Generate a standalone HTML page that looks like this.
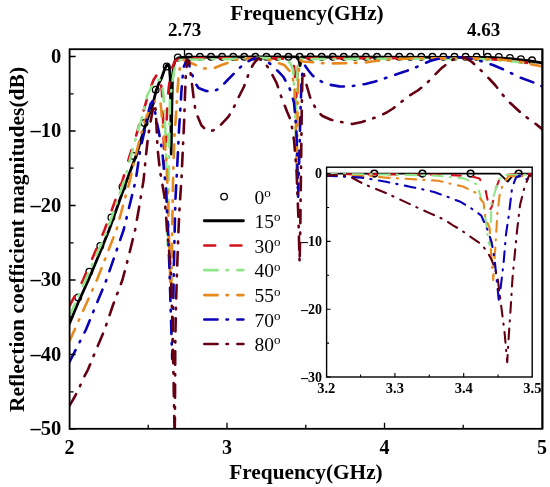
<!DOCTYPE html>
<html><head><meta charset="utf-8"><title>Reflection coefficient magnitudes</title>
<style>
html,body{margin:0;padding:0;background:#fff;}
body{width:550px;height:487px;overflow:hidden;}
svg{display:block;}
text{font-family:"Liberation Serif","Times New Roman",serif;}
.b{font-weight:bold;}
</style></head><body>
<svg width="550" height="487" viewBox="0 0 550 487">
<defs>
<clipPath id="cm"><rect x="70" y="49.5" width="472" height="379"/></clipPath>
<clipPath id="ci"><rect x="326.8" y="167.6" width="204.8" height="208.8"/></clipPath>
</defs>
<rect width="550" height="487" fill="#fff"/>

<g clip-path="url(#cm)">
<circle cx="78.2" cy="297.4" r="3.3" fill="none" stroke="#000" stroke-width="1.3"/>
<circle cx="89.3" cy="271.7" r="3.3" fill="none" stroke="#000" stroke-width="1.3"/>
<circle cx="100.3" cy="246.0" r="3.3" fill="none" stroke="#000" stroke-width="1.3"/>
<circle cx="111.4" cy="217.4" r="3.3" fill="none" stroke="#000" stroke-width="1.3"/>
<circle cx="122.5" cy="186.8" r="3.3" fill="none" stroke="#000" stroke-width="1.3"/>
<circle cx="133.5" cy="155.9" r="3.3" fill="none" stroke="#000" stroke-width="1.3"/>
<circle cx="144.6" cy="123.0" r="3.3" fill="none" stroke="#000" stroke-width="1.3"/>
<circle cx="155.7" cy="89.7" r="3.3" fill="none" stroke="#000" stroke-width="1.3"/>
<circle cx="166.7" cy="66.5" r="3.3" fill="none" stroke="#000" stroke-width="1.3"/>
<circle cx="177.8" cy="57.5" r="3.3" fill="none" stroke="#000" stroke-width="1.3"/>
<circle cx="188.9" cy="56.8" r="3.3" fill="none" stroke="#000" stroke-width="1.3"/>
<circle cx="199.9" cy="56.8" r="3.3" fill="none" stroke="#000" stroke-width="1.3"/>
<circle cx="211.0" cy="56.8" r="3.3" fill="none" stroke="#000" stroke-width="1.3"/>
<circle cx="222.1" cy="56.8" r="3.3" fill="none" stroke="#000" stroke-width="1.3"/>
<circle cx="233.2" cy="56.8" r="3.3" fill="none" stroke="#000" stroke-width="1.3"/>
<circle cx="244.2" cy="56.8" r="3.3" fill="none" stroke="#000" stroke-width="1.3"/>
<circle cx="255.3" cy="56.8" r="3.3" fill="none" stroke="#000" stroke-width="1.3"/>
<circle cx="266.4" cy="56.8" r="3.3" fill="none" stroke="#000" stroke-width="1.3"/>
<circle cx="277.4" cy="56.8" r="3.3" fill="none" stroke="#000" stroke-width="1.3"/>
<circle cx="288.5" cy="56.8" r="3.3" fill="none" stroke="#000" stroke-width="1.3"/>
<circle cx="299.6" cy="56.8" r="3.3" fill="none" stroke="#000" stroke-width="1.3"/>
<circle cx="310.6" cy="56.8" r="3.3" fill="none" stroke="#000" stroke-width="1.3"/>
<circle cx="321.7" cy="56.8" r="3.3" fill="none" stroke="#000" stroke-width="1.3"/>
<circle cx="332.8" cy="56.8" r="3.3" fill="none" stroke="#000" stroke-width="1.3"/>
<circle cx="343.8" cy="56.8" r="3.3" fill="none" stroke="#000" stroke-width="1.3"/>
<circle cx="354.9" cy="56.8" r="3.3" fill="none" stroke="#000" stroke-width="1.3"/>
<circle cx="366.0" cy="56.8" r="3.3" fill="none" stroke="#000" stroke-width="1.3"/>
<circle cx="377.0" cy="56.8" r="3.3" fill="none" stroke="#000" stroke-width="1.3"/>
<circle cx="388.1" cy="56.8" r="3.3" fill="none" stroke="#000" stroke-width="1.3"/>
<circle cx="399.2" cy="56.8" r="3.3" fill="none" stroke="#000" stroke-width="1.3"/>
<circle cx="410.2" cy="56.8" r="3.3" fill="none" stroke="#000" stroke-width="1.3"/>
<circle cx="421.3" cy="56.8" r="3.3" fill="none" stroke="#000" stroke-width="1.3"/>
<circle cx="432.4" cy="56.8" r="3.3" fill="none" stroke="#000" stroke-width="1.3"/>
<circle cx="443.4" cy="56.8" r="3.3" fill="none" stroke="#000" stroke-width="1.3"/>
<circle cx="454.5" cy="56.8" r="3.3" fill="none" stroke="#000" stroke-width="1.3"/>
<circle cx="465.6" cy="56.8" r="3.3" fill="none" stroke="#000" stroke-width="1.3"/>
<circle cx="476.6" cy="56.8" r="3.3" fill="none" stroke="#000" stroke-width="1.3"/>
<circle cx="487.7" cy="56.8" r="3.3" fill="none" stroke="#000" stroke-width="1.3"/>
<circle cx="498.8" cy="56.9" r="3.3" fill="none" stroke="#000" stroke-width="1.3"/>
<circle cx="509.9" cy="58.0" r="3.3" fill="none" stroke="#000" stroke-width="1.3"/>
<circle cx="520.9" cy="59.2" r="3.3" fill="none" stroke="#000" stroke-width="1.3"/>
<circle cx="532.0" cy="60.3" r="3.3" fill="none" stroke="#000" stroke-width="1.3"/>
<polyline points="69.50,323.50 78.00,303.00 88.40,280.00 98.50,256.00 109.10,230.00 118.00,205.00 126.90,180.00 136.70,154.00 143.60,131.00 148.50,116.00 152.80,104.80 156.00,91.00 159.00,83.00 161.60,78.00 164.00,71.00 166.30,65.80 168.00,64.70 169.40,67.50 170.20,78.00 170.70,105.00 171.20,154.00 171.80,110.00 172.40,82.00 173.40,67.00 175.30,60.00 178.00,58.00 182.00,57.30 190.00,57.20 258.50,56.80 298.19,56.80 300.08,65.59 301.58,56.80 470.00,57.30 490.00,57.50 510.00,58.60 530.00,61.00 542.50,63.00" fill="none" stroke="#000000" stroke-width="2.8" stroke-linejoin="round" stroke-linecap="round"/>
<polyline points="69.50,306.00 83.10,280.00 104.50,230.00 122.70,180.00 129.00,158.00 135.70,137.00 139.50,124.00 143.50,111.00 147.00,99.00 150.50,88.00 153.50,80.00 157.00,74.50 159.00,74.00 160.50,80.00 162.00,92.00 162.80,110.00 163.40,130.00 164.00,150.00 164.80,168.00 165.70,150.00 166.50,125.00 167.30,105.00 168.50,90.00 170.00,78.00 172.00,68.00 175.00,61.00 180.00,58.50 190.00,58.30 258.50,58.24 274.25,58.39 286.85,58.99 291.73,60.55 293.62,62.86 295.04,76.42 295.95,97.73 296.43,94.00 297.37,73.89 298.54,59.51 301.03,58.24 320.00,58.30 420.00,58.30 480.00,58.60 510.00,60.50 542.50,65.00" fill="none" stroke="#d2101c" stroke-width="2.6" stroke-linejoin="round" stroke-linecap="round" stroke-dasharray="10.9 15.3"/>
<polyline points="69.50,316.00 85.50,280.00 107.30,230.00 124.50,180.00 138.00,130.00 141.00,121.00 147.40,95.00 152.00,86.00 156.00,81.50 159.50,79.50 162.00,84.00 163.50,95.00 165.00,120.00 166.00,150.00 166.50,200.00 167.00,235.00 167.80,250.00 168.40,220.00 168.80,180.00 169.00,150.00 169.50,120.00 170.00,100.00 172.00,85.00 173.80,72.00 176.00,64.00 180.00,60.00 183.00,59.50 200.00,59.50 230.00,59.00 258.50,57.87 274.25,58.62 283.70,59.73 290.00,62.72 293.07,69.42 294.73,96.98 295.67,132.75 295.99,136.47 296.39,89.53 298.03,63.98 299.45,58.99 320.00,59.00 420.00,58.80 480.00,59.00 510.00,61.00 542.50,65.50" fill="none" stroke="#90e68a" stroke-width="2.6" stroke-linejoin="round" stroke-linecap="round" stroke-dasharray="13.3 8.9 1.5 9.4"/>
<polyline points="69.50,341.00 74.50,330.00 96.90,280.00 116.40,230.00 130.00,180.00 136.00,154.00 140.00,138.00 144.00,124.00 148.00,113.00 152.00,105.00 156.00,100.00 158.50,99.00 160.70,104.00 162.30,122.00 164.40,140.00 166.40,160.00 168.00,200.00 169.40,250.00 170.20,280.00 170.80,296.00 171.50,280.00 172.20,230.00 172.80,190.00 173.30,170.00 174.50,135.00 176.20,112.00 177.20,95.00 178.50,77.00 180.50,64.00 183.70,60.00 191.00,63.00 204.00,68.50 214.20,68.00 221.60,65.00 235.50,60.00 245.00,58.50 258.50,59.23 269.52,59.98 272.20,61.47 278.98,63.33 284.17,64.90 287.01,68.17 289.84,71.16 292.84,78.23 294.57,89.41 294.98,105.43 295.92,116.60 296.25,142.68 296.77,173.97 297.34,130.75 297.72,100.21 298.27,79.35 298.98,68.92 300.24,59.98 302.00,61.50 316.00,62.50 326.00,63.50 345.00,63.20 365.00,62.50 375.00,61.00 395.00,59.30 410.00,58.50 430.00,58.30 480.00,58.60 500.00,59.50 520.00,62.00 542.50,66.50" fill="none" stroke="#e8891e" stroke-width="2.6" stroke-linejoin="round" stroke-linecap="round" stroke-dasharray="13.3 8.9 1.5 9.4"/>
<polyline points="69.50,362.00 85.80,330.00 106.40,280.00 123.60,230.00 135.80,180.00 140.30,149.00 144.30,132.00 147.30,116.00 150.60,104.00 152.70,101.00 154.50,108.00 156.50,121.00 158.50,130.00 160.50,141.00 162.30,152.00 164.50,175.00 166.00,188.00 168.00,230.00 169.50,270.00 171.00,320.00 172.20,359.00 173.00,320.00 173.80,270.00 174.70,230.00 175.40,200.00 176.50,180.00 177.80,155.00 179.00,130.00 180.30,110.00 181.30,93.00 182.50,78.00 183.70,67.00 186.50,60.50 188.50,63.00 192.00,74.00 194.80,82.30 198.50,88.00 206.00,91.00 213.30,91.40 219.70,88.50 227.10,80.50 237.30,70.30 244.70,63.00 254.00,58.50 258.50,58.73 266.69,60.97 272.20,65.44 278.19,71.40 283.23,76.62 287.01,83.32 289.37,87.79 292.13,95.98 294.03,102.69 295.45,118.34 296.39,131.75 297.09,151.12 298.08,197.31 299.50,150.00 300.50,110.00 301.60,80.00 303.00,68.00 305.00,65.50 308.10,70.00 312.50,75.50 319.00,80.20 326.00,84.00 339.30,86.40 349.00,86.50 365.40,84.00 375.30,81.50 385.00,78.20 404.70,71.60 414.50,68.00 421.00,65.00 430.00,61.00 437.40,59.00 447.00,57.50 460.00,57.30 470.70,58.80 481.80,61.30 493.60,65.20 503.60,69.50 520.00,77.50 535.00,83.00 542.50,86.50" fill="none" stroke="#0a00b8" stroke-width="2.6" stroke-linejoin="round" stroke-linecap="round" stroke-dasharray="13.3 8.9 1.5 9.4"/>
<polyline points="69.50,405.70 74.90,396.50 79.20,387.90 82.90,379.20 87.80,370.00 96.00,350.00 104.50,330.00 113.00,305.00 122.40,280.00 129.00,255.00 135.10,230.00 139.50,205.00 143.60,180.00 146.00,155.00 148.00,137.00 150.50,122.00 153.00,109.00 154.50,104.00 155.70,110.00 156.60,128.00 157.50,148.00 160.00,171.00 162.50,185.00 164.40,196.00 166.00,215.00 167.20,232.00 169.50,255.00 170.90,272.00 172.30,320.00 173.40,370.00 174.30,420.00 174.60,440.00 174.90,420.00 175.30,340.00 176.00,305.00 177.00,272.00 178.50,230.00 179.60,207.00 181.40,180.00 182.80,150.00 184.20,120.00 185.00,95.00 185.90,72.00 187.50,59.50 189.20,61.00 190.20,70.30 192.00,84.00 193.90,100.00 195.70,112.00 201.50,125.40 205.00,129.00 209.90,130.80 213.00,130.50 217.50,128.30 228.50,116.60 233.20,108.60 238.00,98.50 243.80,87.00 246.50,79.50 250.20,70.00 253.50,64.00 256.70,60.00 258.50,58.30 262.00,60.00 266.00,64.50 270.00,70.50 276.60,83.00 281.00,96.00 287.20,112.00 291.00,121.00 294.00,140.00 296.50,170.00 298.50,220.00 299.60,263.00 300.40,220.00 301.00,170.00 301.50,130.00 301.90,100.00 302.50,72.00 303.50,72.00 305.30,81.00 308.00,90.00 310.20,97.60 316.80,110.80 322.50,116.00 331.00,119.80 344.00,122.60 352.40,124.00 362.00,122.00 377.00,117.00 386.70,112.50 393.00,108.50 400.00,103.00 408.00,96.50 417.80,90.50 426.00,84.00 435.00,74.70 442.00,67.70 453.00,59.50 458.00,57.60 465.00,57.60 472.00,62.00 483.50,72.80 489.00,78.50 495.50,85.50 506.40,99.50 522.70,114.50 537.70,125.40 542.50,129.50" fill="none" stroke="#640012" stroke-width="2.6" stroke-linejoin="round" stroke-linecap="round" stroke-dasharray="13.3 8.9 1.5 9.4"/>
</g>
<rect x="69.6" y="49.2" width="472.8" height="379.6" fill="none" stroke="#000" stroke-width="1.8"/>
<path d="M69.6 56.5h6 M69.6 93.8h4 M69.6 131.0h6 M69.6 168.2h4 M69.6 205.5h6 M69.6 242.8h4 M69.6 280.0h6 M69.6 317.2h4 M69.6 354.5h6 M69.6 391.8h4 M69.6 429.0h6 M148.2 428.8v-4 M227.0 428.8v-6 M305.8 428.8v-4 M384.5 428.8v-6 M463.2 428.8v-4 M184.5 49.2v6.5 M483.7 49.2v6.5" stroke="#000" stroke-width="1.3" fill="none"/>
<g class="b" font-size="20.5" text-anchor="end">
<text x="61.2" y="62.8">0</text>
<text x="61.2" y="137.3">&#8211;10</text>
<text x="61.2" y="211.8">&#8211;20</text>
<text x="61.2" y="286.3">&#8211;30</text>
<text x="61.2" y="360.8">&#8211;40</text>
<text x="61.2" y="435.3">&#8211;50</text>
</g>
<g class="b" font-size="20" text-anchor="middle">
<text x="69.5" y="453.9">2</text>
<text x="227.0" y="453.9">3</text>
<text x="384.5" y="453.9">4</text>
<text x="542.0" y="453.9">5</text>
</g>
<g class="b" font-size="19" text-anchor="middle">
<text x="184.5" y="36.4">2.73</text>
<text x="483.7" y="36.4">4.63</text>
</g>
<text class="b" font-size="21.3" x="307" y="20.3" text-anchor="middle">Frequency(GHz)</text>
<text class="b" font-size="21.3" x="306" y="478.9" text-anchor="middle">Frequency(GHz)</text>
<text class="b" font-size="21.5" transform="translate(24.2,239.5) rotate(-90)" text-anchor="middle">Reflection coefficient magnitudes(dB)</text>
<circle cx="224.1" cy="196.6" r="3.3" fill="none" stroke="#000" stroke-width="1.3"/>
<text x="254.4" y="203.9" font-size="19.5">0<tspan font-size="13" dy="-6.9">o</tspan></text>
<line x1="204.3" y1="220.7" x2="243.4" y2="220.7" stroke="#000000" stroke-width="2.9" stroke-linecap="round"/>
<text x="254.4" y="228.0" font-size="19.5">15<tspan font-size="13" dy="-6.9">o</tspan></text>
<line x1="204.3" y1="245.5" x2="243.4" y2="245.5" stroke="#d2101c" stroke-width="2.6" stroke-linecap="round" stroke-dasharray="10.9 15.3"/>
<text x="254.4" y="252.8" font-size="19.5">30<tspan font-size="13" dy="-6.9">o</tspan></text>
<line x1="204.3" y1="270.1" x2="243.4" y2="270.1" stroke="#90e68a" stroke-width="2.6" stroke-linecap="round" stroke-dasharray="13.3 8.9 1.5 9.4"/>
<text x="254.4" y="277.4" font-size="19.5">40<tspan font-size="13" dy="-6.9">o</tspan></text>
<line x1="204.3" y1="295.1" x2="243.4" y2="295.1" stroke="#e8891e" stroke-width="2.6" stroke-linecap="round" stroke-dasharray="13.3 8.9 1.5 9.4"/>
<text x="254.4" y="302.4" font-size="19.5">55<tspan font-size="13" dy="-6.9">o</tspan></text>
<line x1="204.3" y1="319.5" x2="243.4" y2="319.5" stroke="#0a00b8" stroke-width="2.6" stroke-linecap="round" stroke-dasharray="13.3 8.9 1.5 9.4"/>
<text x="254.4" y="326.8" font-size="19.5">70<tspan font-size="13" dy="-6.9">o</tspan></text>
<line x1="204.3" y1="344.0" x2="243.4" y2="344.0" stroke="#640012" stroke-width="2.6" stroke-linecap="round" stroke-dasharray="13.3 8.9 1.5 9.4"/>
<text x="254.4" y="351.3" font-size="19.5">80<tspan font-size="13" dy="-6.9">o</tspan></text>
<rect x="326.2" y="167.0" width="206.1" height="210" fill="#fff" stroke="none"/>
<g clip-path="url(#ci)">
<circle cx="374.3" cy="173.6" r="3.3" fill="none" stroke="#000" stroke-width="1.6"/>
<circle cx="422.4" cy="173.6" r="3.3" fill="none" stroke="#000" stroke-width="1.6"/>
<circle cx="470.6" cy="173.6" r="3.3" fill="none" stroke="#000" stroke-width="1.6"/>
<circle cx="518.7" cy="173.6" r="3.3" fill="none" stroke="#000" stroke-width="1.6"/>
<polyline points="326.20,173.60 499.45,173.60 507.70,181.60 514.23,173.60 532.45,173.60" fill="none" stroke="#000000" stroke-width="1.9" stroke-linejoin="round" stroke-linecap="round"/>
<polyline points="326.20,174.28 394.95,174.41 449.95,174.96 471.26,176.38 479.51,178.48 485.70,190.82 489.69,210.21 491.75,206.82 495.87,188.52 500.96,175.43 511.82,174.28 532.45,174.28" fill="none" stroke="#d2101c" stroke-width="2.1" stroke-linejoin="round" stroke-linecap="round" stroke-dasharray="8.72 12.24"/>
<polyline points="326.20,173.94 394.95,174.62 436.20,175.63 463.70,178.35 477.11,184.45 484.32,209.53 488.45,242.08 489.82,245.47 491.61,202.75 498.76,179.50 504.95,174.96 532.45,174.62" fill="none" stroke="#90e68a" stroke-width="2.1" stroke-linejoin="round" stroke-linecap="round" stroke-dasharray="10.64 7.12 1.20 7.52"/>
<polyline points="326.20,175.63 374.32,176.31 386.01,177.67 415.57,179.36 438.26,180.79 450.64,183.77 463.01,186.48 476.07,192.92 483.64,203.09 485.42,217.67 489.55,227.84 490.99,251.57 493.26,280.05 495.74,240.72 497.39,212.92 499.79,193.94 502.89,184.45 508.39,176.31 532.45,175.97" fill="none" stroke="#e8891e" stroke-width="2.1" stroke-linejoin="round" stroke-linecap="round" stroke-dasharray="10.64 7.12 1.20 7.52"/>
<polyline points="326.20,175.63 361.95,177.67 386.01,181.74 412.14,187.16 434.14,191.91 450.64,198.01 460.95,202.08 472.98,209.53 481.30,215.64 487.49,229.87 491.61,242.08 494.64,259.71 498.97,301.74 503.57,263.10 505.98,234.62 508.94,214.28 512.10,187.84 515.95,177.67 519.39,175.63 523.51,176.99 528.33,180.38 532.45,184.45" fill="none" stroke="#0a00b8" stroke-width="2.1" stroke-linejoin="round" stroke-linecap="round" stroke-dasharray="10.64 7.12 1.20 7.52"/>
<polyline points="326.20,175.63 341.81,174.48 349.57,176.38 363.60,183.97 385.32,192.72 413.51,205.81 430.70,213.60 443.97,219.50 452.56,225.13 460.81,229.87 473.12,238.69 479.31,242.76 483.43,246.82 487.49,252.25 491.61,259.71 497.39,275.98 504.61,332.93 507.22,362.08 508.52,339.71 510.45,311.23 512.51,278.01 514.58,256.32 516.98,231.23 520.08,204.79 524.54,187.16 529.01,175.63 532.45,175.63" fill="none" stroke="#640012" stroke-width="2.1" stroke-linejoin="round" stroke-linecap="round" stroke-dasharray="10.64 7.12 1.20 7.52"/>
</g>
<rect x="326.6" y="167.2" width="205.6" height="209.8" fill="none" stroke="#000" stroke-width="1.4"/>
<path d="M326.6 173.6h4 M326.6 207.5h2.5 M326.6 241.4h4 M326.6 275.3h2.5 M326.6 309.2h4 M326.6 343.1h2.5 M326.6 377.0h4 M360.6 377v-2.5 M394.9 377v-4 M429.3 377v-2.5 M463.7 377v-4 M498.1 377v-2.5" stroke="#000" stroke-width="1.1" fill="none"/>
<g class="b" font-size="14" text-anchor="end">
<text x="322" y="178.4">0</text>
<text x="322" y="246.2">&#8211;10</text>
<text x="322" y="314.0">&#8211;20</text>
<text x="322" y="381.8">&#8211;30</text>
</g>
<g class="b" font-size="14.5" text-anchor="middle">
<text x="326.2" y="392.7">3.2</text>
<text x="394.9" y="392.7">3.3</text>
<text x="463.7" y="392.7">3.4</text>
<text x="532.4" y="392.7">3.5</text>
</g>
<line x1="542.4" y1="49.2" x2="542.4" y2="428.8" stroke="#000" stroke-width="1.8"/>
</svg></body></html>
